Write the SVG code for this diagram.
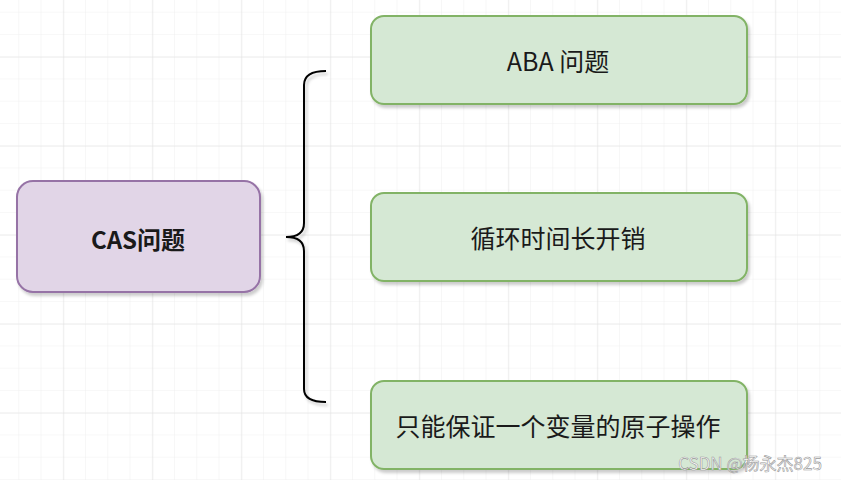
<svg xmlns="http://www.w3.org/2000/svg" width="841" height="480" viewBox="0 0 841 480">
<defs>
<pattern id="minor" width="22.25" height="22.25" patternUnits="userSpaceOnUse" patternTransform="translate(18.3,11.7)">
<path d="M0 0H22.25M0 0V22.25" fill="none" stroke="#efefef" stroke-width="1"/>
</pattern>
<pattern id="major" width="89" height="89" patternUnits="userSpaceOnUse" patternTransform="translate(63.3,56.7)">
<path d="M0 0H89M0 0V89" fill="none" stroke="#e2e2e2" stroke-width="1"/>
</pattern>
<filter id="sh" x="-10%" y="-10%" width="130%" height="130%"><feDropShadow dx="2" dy="3" stdDeviation="1.5" flood-color="#000" flood-opacity="0.2"/></filter>
</defs>
<style>
.g{fill:#d5e8d4;stroke:#82b366;stroke-width:2}
.p{fill:#e1d5e7;stroke:#9673a6;stroke-width:2}
.t{font-family:"Noto Sans CJK SC","Noto Sans",sans-serif;font-size:25px;fill:#1a1a1a;text-anchor:middle;dominant-baseline:central}
</style>
<rect width="841" height="480" fill="#fff"/>
<rect width="841" height="480" fill="url(#minor)"/>
<rect width="841" height="480" fill="url(#major)"/>
<g id="connectors">
<path d="M326 71 Q304 71 304 85 V223 Q304 237 286 237 Q304 237 304 251 V389 Q304 402 326 402" fill="none" stroke="#000" stroke-width="2" filter="url(#sh)"/>
</g>
<g id="cas"><rect class="p" x="17" y="181" width="243" height="111" rx="16" filter="url(#sh)"/><text class="t" x="138" y="238" font-weight="bold" style="font-size:24px">CAS问题</text></g>
<g id="aba"><rect class="g" x="371" y="16" width="376" height="88" rx="13" filter="url(#sh)"/><text class="t" x="558" y="60">ABA 问题</text></g>
<g id="loop"><rect class="g" x="371" y="193" width="376" height="88" rx="13" filter="url(#sh)"/><text class="t" x="558" y="237">循环时间长开销</text></g>
<g id="atomic"><rect class="g" x="371" y="381" width="376" height="88" rx="13" filter="url(#sh)"/><text class="t" x="558" y="425">只能保证一个变量的原子操作</text></g>
<text x="750" y="462" font-family="&quot;Noto Sans CJK SC&quot;,sans-serif" font-size="17" fill="#fff" stroke="#999" stroke-width="0.6" text-anchor="middle" dominant-baseline="central">CSDN @杨永杰825</text>
</svg>
